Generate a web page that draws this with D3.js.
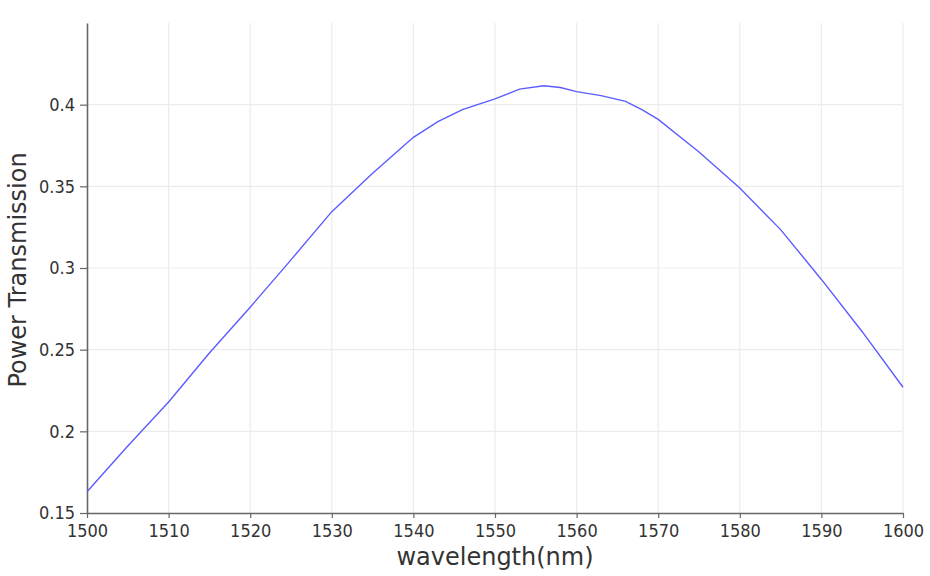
<!DOCTYPE html>
<html>
<head>
<meta charset="utf-8">
<script src="https://cdn.jsdelivr.net/npm/d3@7"></script>
<style>
  body { margin: 0; background: #fff; }
  .tick text { font-family: "DejaVu Sans Condensed", "DejaVu Sans", sans-serif; font-size: 18px; fill: #333; }
  .axis-title { font-family: "DejaVu Sans", sans-serif; font-size: 24px; fill: #333; }
</style>
</head>
<body>
<svg id="chart" width="930" height="576"></svg>
<script>
// wavelength samples (nm) and power transmission
const wavelength = [1500, 1505, 1510, 1515, 1520, 1525, 1530, 1535, 1540, 1543, 1546, 1550,
  1553, 1556, 1558, 1560, 1563, 1566, 1568, 1570, 1575, 1580, 1585, 1590, 1595, 1600];
const transmission = [0.163, 0.191, 0.218, 0.248, 0.276, 0.305, 0.3345, 0.358, 0.380, 0.3896,
  0.397, 0.4035, 0.4095, 0.4116, 0.4105, 0.408, 0.4055, 0.402, 0.397, 0.391, 0.371, 0.349,
  0.3235, 0.293, 0.261, 0.227];
const xTicks = [1500, 1510, 1520, 1530, 1540, 1550, 1560, 1570, 1580, 1590, 1600];
const yTicks = [0.15, 0.2, 0.25, 0.3, 0.35, 0.4];

const margin = {top: 23, right: 27, bottom: 63, left: 87};
const svg = d3.select("#chart");
const width = 930 - margin.left - margin.right;
const height = 576 - margin.top - margin.bottom;

const x = d3.scaleLinear().domain([1500, 1600]).range([0, width]);
const y = d3.scaleLinear().domain([0.15, 0.45]).range([height, 0]);

const g = svg.append("g").attr("transform", `translate(${margin.left},${margin.top})`);

// grid lines
g.append("g")
  .selectAll("line.vgrid")
  .data(xTicks.slice(1))
  .join("line")
    .attr("x1", d => x(d)).attr("x2", d => x(d))
    .attr("y1", 0).attr("y2", height)
    .attr("stroke", "#ececec").attr("stroke-width", 1.2);
g.append("g")
  .selectAll("line.hgrid")
  .data(yTicks.slice(1))
  .join("line")
    .attr("x1", 0).attr("x2", width)
    .attr("y1", d => y(d)).attr("y2", d => y(d))
    .attr("stroke", "#ececec").attr("stroke-width", 1.2);

// axes
const xAxis = g.append("g")
  .attr("transform", `translate(0,${height})`)
  .call(d3.axisBottom(x).tickValues(xTicks).tickFormat(d3.format("d")).tickSize(5).tickSizeOuter(0));
const yAxis = g.append("g")
  .call(d3.axisLeft(y).tickValues(yTicks).tickFormat(d => String(+d.toFixed(2))).tickSize(7).tickSizeOuter(0));

[xAxis, yAxis].forEach(a => {
  a.select(".domain").attr("stroke", "#666").attr("stroke-width", 1.6);
  a.selectAll(".tick line").attr("stroke", "#666").attr("stroke-width", 1.2);
  a.attr("font-family", null).attr("font-size", null);
});
xAxis.selectAll(".tick text").attr("y", 10).attr("dy", "0.75em");
yAxis.selectAll(".tick text").attr("x", -12);

// curve
const line = d3.line()
  .x((d, i) => x(wavelength[i]))
  .y(d => y(d));
g.append("path")
  .datum(transmission)
  .attr("fill", "none")
  .attr("stroke", "#5c5cff")
  .attr("stroke-width", 1.4)
  .attr("d", line);

// axis titles
svg.append("text")
  .attr("class", "axis-title")
  .attr("x", margin.left + width / 2)
  .attr("y", 565)
  .attr("text-anchor", "middle")
  .text("wavelength(nm)");
svg.append("text")
  .attr("class", "axis-title")
  .attr("transform", `translate(26,${margin.top + height / 2 + 2}) rotate(-90)`)
  .attr("text-anchor", "middle")
  .text("Power Transmission");
</script>
</body>
</html>
